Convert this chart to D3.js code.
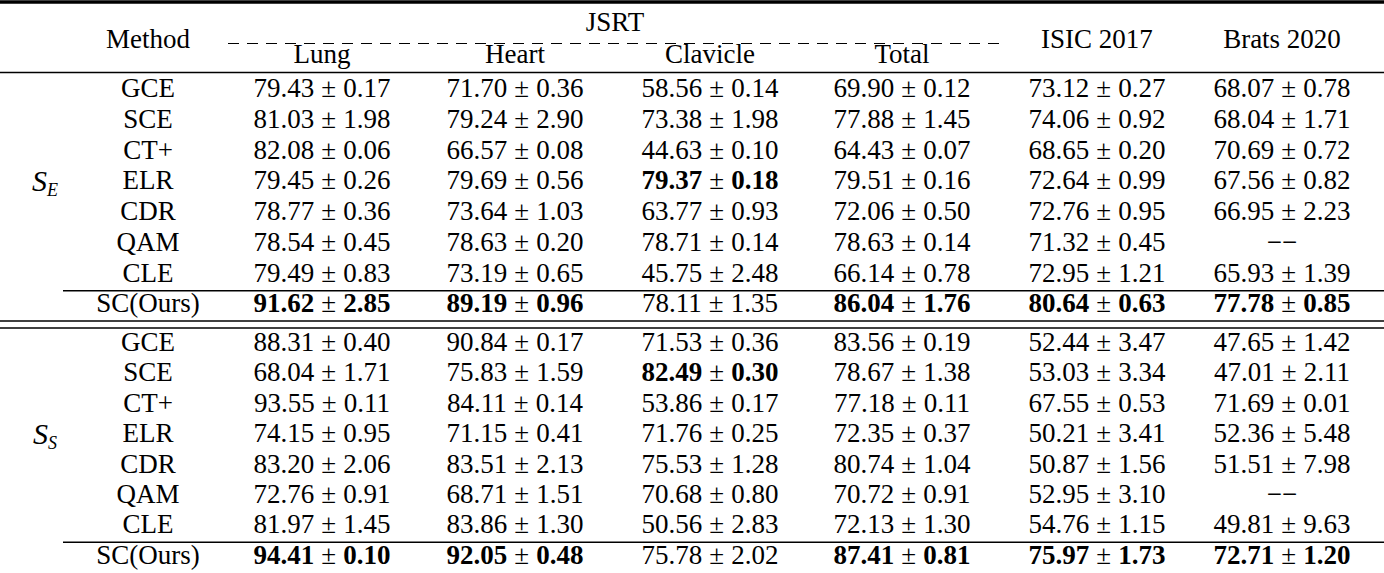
<!DOCTYPE html>
<html><head><meta charset="utf-8">
<script src="https://cdn.jsdelivr.net/npm/d3@7"></script>
<style>body{margin:0;background:#fff}svg{display:block}</style>
</head><body>
<svg id="t" width="1384" height="573"></svg>
<script>
const methods = ["GCE","SCE","CT+","ELR","CDR","QAM","CLE","SC(Ours)"];
const columns = ["Lung","Heart","Clavicle","Total","ISIC 2017","Brats 2020"];
const groups = ["E","S"];
const seValues = [
 ["79.43 ± 0.17","71.70 ± 0.36","58.56 ± 0.14","69.90 ± 0.12","73.12 ± 0.27","68.07 ± 0.78"],
 ["81.03 ± 1.98","79.24 ± 2.90","73.38 ± 1.98","77.88 ± 1.45","74.06 ± 0.92","68.04 ± 1.71"],
 ["82.08 ± 0.06","66.57 ± 0.08","44.63 ± 0.10","64.43 ± 0.07","68.65 ± 0.20","70.69 ± 0.72"],
 ["79.45 ± 0.26","79.69 ± 0.56","79.37 ± 0.18","79.51 ± 0.16","72.64 ± 0.99","67.56 ± 0.82"],
 ["78.77 ± 0.36","73.64 ± 1.03","63.77 ± 0.93","72.06 ± 0.50","72.76 ± 0.95","66.95 ± 2.23"],
 ["78.54 ± 0.45","78.63 ± 0.20","78.71 ± 0.14","78.63 ± 0.14","71.32 ± 0.45","−−"],
 ["79.49 ± 0.83","73.19 ± 0.65","45.75 ± 2.48","66.14 ± 0.78","72.95 ± 1.21","65.93 ± 1.39"],
 ["91.62 ± 2.85","89.19 ± 0.96","78.11 ± 1.35","86.04 ± 1.76","80.64 ± 0.63","77.78 ± 0.85"]];
const ssValues = [
 ["88.31 ± 0.40","90.84 ± 0.17","71.53 ± 0.36","83.56 ± 0.19","52.44 ± 3.47","47.65 ± 1.42"],
 ["68.04 ± 1.71","75.83 ± 1.59","82.49 ± 0.30","78.67 ± 1.38","53.03 ± 3.34","47.01 ± 2.11"],
 ["93.55 ± 0.11","84.11 ± 0.14","53.86 ± 0.17","77.18 ± 0.11","67.55 ± 0.53","71.69 ± 0.01"],
 ["74.15 ± 0.95","71.15 ± 0.41","71.76 ± 0.25","72.35 ± 0.37","50.21 ± 3.41","52.36 ± 5.48"],
 ["83.20 ± 2.06","83.51 ± 2.13","75.53 ± 1.28","80.74 ± 1.04","50.87 ± 1.56","51.51 ± 7.98"],
 ["72.76 ± 0.91","68.71 ± 1.51","70.68 ± 0.80","70.72 ± 0.91","52.95 ± 3.10","−−"],
 ["81.97 ± 1.45","83.86 ± 1.30","50.56 ± 2.83","72.13 ± 1.30","54.76 ± 1.15","49.81 ± 9.63"],
 ["94.41 ± 0.10","92.05 ± 0.48","75.78 ± 2.02","87.41 ± 0.81","75.97 ± 1.73","72.71 ± 1.20"]];
const seBold = [[3,2],[7,0],[7,1],[7,3],[7,4],[7,5]];
const ssBold = [[1,2],[7,0],[7,1],[7,3],[7,4],[7,5]];

const svg = d3.select("#t");
const font = "'Liberation Serif','Times New Roman',serif";
const FS = 27;
const x = d3.scaleOrdinal().domain(["Method",...columns]).range([148,322,515,710,902,1097,1282]);
const rowY = (g,i) => g===0 ? 97 + i*30.75 : 351 + i*30.4;

function txt(xp,yp,s,opt={}){
  return svg.append("text").attr("x",xp).attr("y",yp).attr("text-anchor",opt.anchor||"middle")
   .attr("font-family",font).attr("font-size",opt.fs||FS)
   .attr("font-weight",opt.bold?"bold":"normal").attr("font-style",opt.italic?"italic":"normal")
   .attr("fill","#000").text(s);
}
function cell(xp,yp,v,bold){
  const parts = v.split(" ± ");
  const t = txt(xp,yp,"",{bold});
  if(parts.length<2){ t.text(v); return; }
  t.append("tspan").text(parts[0]);
  t.append("tspan").attr("dx",7).attr("font-weight","normal").text("±");
  t.append("tspan").attr("dx",7).text(parts[1]);
}
function line(x1,x2,y,w,dash){
  svg.append("line").attr("x1",x1).attr("x2",x2).attr("y1",y).attr("y2",y)
   .attr("stroke","#000").attr("stroke-width",w).attr("stroke-dasharray",dash||null);
}
line(0,1384,2,3.5);
txt(x("Method"),48,"Method");
txt(615,31,"JSRT");
line(228,1005,43.5,1.2,"11,8");
columns.slice(0,4).forEach(c=>txt(x(c),63,c));
columns.slice(4).forEach(c=>txt(x(c),48,c));
line(0,1384,72.5,1.5);

[seValues,ssValues].forEach((vals,g)=>{
  const bold = g===0?seBold:ssBold;
  methods.forEach((m,i)=>{
    txt(x("Method"),rowY(g,i),m);
    vals[i].forEach((v,j)=>{
      const b = bold.some(([r,c])=>r===i&&c===j);
      cell(x(columns[j]),rowY(g,i),v,b);
    });
  });
  line(63,1384,rowY(g,7)-21.5,1.5);
  const mid = (rowY(g,0)+rowY(g,6))/2;
  const t = svg.append("text").attr("x",45).attr("y",mid+2).attr("text-anchor","middle")
    .attr("font-family",font).attr("font-size",FS+3).attr("font-style","italic");
  t.append("tspan").text("S");
  t.append("tspan").attr("font-size",18).attr("dy",5).text(groups[g]);
});
line(0,1384,321,1.5);
line(0,1384,328,1.5);
</script>
</body></html>
